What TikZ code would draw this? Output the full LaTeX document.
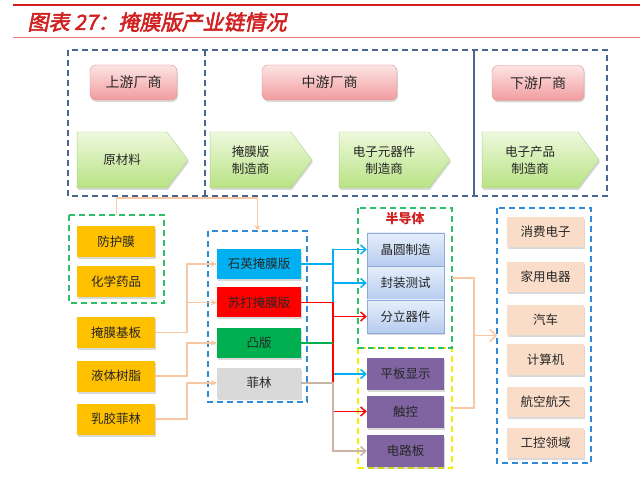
\documentclass[tikz,border=0pt]{standalone}
\usepackage{fontspec}
\newfontfamily\cjk{Noto Sans CJK SC}
\newfontfamily\cjktitle[FakeSlant=0.2,FakeBold=2.5]{Noto Sans CJK SC}
\usetikzlibrary{shapes.symbols,shadows,arrows.meta}

\definecolor{titlered}{HTML}{D02020}
\definecolor{framegray}{HTML}{4A6590}
\definecolor{frameblue}{HTML}{2F8AD8}
\definecolor{framegreen}{HTML}{2DBE6C}
\definecolor{frameyellow}{HTML}{F2F200}
\definecolor{feedline}{HTML}{F8C8A4}
\definecolor{pinktop}{HTML}{FCE4E4}
\definecolor{pinkbot}{HTML}{F29C9E}
\definecolor{pinkline}{HTML}{DE8E8E}
\definecolor{leaftop}{HTML}{EEF9DC}
\definecolor{leafbot}{HTML}{B8E284}
\definecolor{leafline}{HTML}{A9D48A}
\definecolor{amber}{HTML}{FFC000}
\definecolor{quartzblue}{HTML}{00B0F0}
\definecolor{sodared}{HTML}{FF0000}
\definecolor{reliefgreen}{HTML}{00B050}
\definecolor{filmgray}{HTML}{D9D9D9}
\definecolor{filmline}{HTML}{C9B2A6}
\definecolor{chiptop}{HTML}{E6EEFB}
\definecolor{chipbot}{HTML}{B7CCEF}
\definecolor{chipline}{HTML}{8EAADB}
\definecolor{violet}{HTML}{8064A2}
\definecolor{peach}{HTML}{FADDC8}

\begin{document}
\begin{tikzpicture}[x=1pt,y=-1pt,
  font=\cjk\fontsize{12.5}{14}\selectfont, text=black!85,
  frame/.style={dash pattern=on 6pt off 4pt, line width=1.4pt},
  shade/.style={drop shadow={opacity=0.3, shadow xshift=1pt, shadow yshift=-2pt}},
  head/.style={draw=pinkline, top color=pinktop, bottom color=pinkbot, rounded corners=6pt,
    minimum height=35pt, font=\cjk\fontsize{14}{16}\selectfont, shade},
  stage/.style={shape=signal, signal to=east, signal from=nowhere, signal pointer angle=106,
    draw=leafline, top color=leaftop, bottom color=leafbot, minimum height=56pt,
    align=center, inner sep=2pt, shade},
  cell/.style={minimum width=#1, minimum height=31pt, inner sep=1pt, shade},
  feed/.style={draw=feedline, line width=1.5pt, -{Stealth[length=6pt,width=6pt]}},
  link/.style={line width=1.5pt, -{Straight Barb[length=5pt,width=9pt]}}
]
\useasboundingbox (0,0) rectangle (640,478);

% title
\draw[titlered, line width=2.5pt] (13,5) -- (640,5);
\draw[titlered!60, line width=1pt] (13,38) -- (640,38);
\node[anchor=west, text=titlered, font=\cjktitle\fontsize{21}{23}\selectfont] (title) at (24,22) {图表 27：掩膜版产业链情况};

% upper frame
\draw[frame, framegray] (68,50) rectangle (607,196);
\draw[frame, framegray] (205,50) -- (205,196);
\draw[line width=1.4pt, framegray] (474,50) -- (474,196);

\node[head, minimum width=87pt] (upmaker) at (133.5,82.5) {上游厂商};
\node[head, minimum width=135pt] (midmaker) at (329.5,82.5) {中游厂商};
\node[head, minimum width=92pt] (downmaker) at (538,83) {下游厂商};

\node[stage, minimum width=111pt] (raw) at (122,160) {原材料};
\node[stage, minimum width=102pt] (maskmaker) at (250.5,160) {掩膜版\\[3pt]制造商};
\node[stage, minimum width=111pt] (partmaker) at (384,160) {电子元器件\\[3pt]制造商};
\node[stage, minimum width=117pt] (goodsmaker) at (530,160) {电子产品\\[3pt]制造商};

% raw materials
\draw[frame, framegreen] (69,215) rectangle (164,303);
\node[fill=amber, cell=78pt] (film) at (116,241.5) {防护膜};
\node[fill=amber, cell=78pt] (chem) at (116,281.5) {化学药品};
\node[fill=amber, cell=78pt] (base) at (116,332.5) {掩膜基板};
\node[fill=amber, cell=78pt] (resin) at (116,376) {液体树脂};
\node[fill=amber, cell=78pt] (latex) at (116,419) {乳胶菲林};
\coordinate (rawbox) at (116.5,215);

% mask types
\draw[frame, frameblue] (208,231) rectangle (307,402);
\coordinate (maskbox) at (257.5,231);
\node[fill=quartzblue, cell=84pt, minimum height=30pt] (quartz) at (259,264) {石英掩膜版};
\node[fill=sodared, cell=84pt, minimum height=30pt] (soda) at (259,302.5) {苏打掩膜版};
\node[fill=reliefgreen, cell=84pt, minimum height=30pt] (relief) at (259,343) {凸版};
\node[fill=filmgray, cell=84pt, minimum height=30pt] (phototool) at (259,383) {菲林};

% components
\draw[frame, frameyellow] (358,348) rectangle (452,468);
\draw[frame, framegreen] (358,208) rectangle (452,348);
\coordinate (semibox) at (452,278);
\coordinate (panelbox) at (452,408);
\node[text=titlered, font=\cjk\bfseries\fontsize{13}{15}\selectfont] (semi) at (405,219) {半导体};
\node[draw=chipline, top color=chiptop, bottom color=chipbot, cell=77pt, minimum height=33pt] (wafer) at (405.5,249.5) {晶圆制造};
\node[draw=chipline, top color=chiptop, bottom color=chipbot, cell=77pt, minimum height=33pt] (pack) at (405.5,283) {封装测试};
\node[draw=chipline, top color=chiptop, bottom color=chipbot, cell=77pt, minimum height=33pt] (discrete) at (405.5,316.5) {分立器件};
\node[fill=violet, cell=77pt, minimum height=32pt] (flat) at (405.5,374) {平板显示};
\node[fill=violet, cell=77pt, minimum height=32pt] (touch) at (405.5,411.5) {触控};
\node[fill=violet, cell=77pt, minimum height=32pt] (pcb) at (405.5,451) {电路板};

% end markets
\draw[frame, frameblue] (497,208) rectangle (591,463);
\coordinate (marketbox) at (497,335.5);
\node[fill=peach, cell=77pt, minimum height=30pt] (consumer) at (545.5,232) {消费电子};
\node[fill=peach, cell=77pt, minimum height=30pt] (appliance) at (545.5,277) {家用电器};
\node[fill=peach, cell=77pt, minimum height=30pt] (car) at (545.5,320) {汽车};
\node[fill=peach, cell=77pt, minimum height=30pt] (computer) at (545.5,359.5) {计算机};
\node[fill=peach, cell=77pt, minimum height=30pt] (aero) at (545.5,402) {航空航天};
\node[fill=peach, cell=77pt, minimum height=30pt] (control) at (545.5,443) {工控领域};

% feeds
\draw[feed] (rawbox) -- ++(0,-17) -| (maskbox);
\draw[feed] (base.east) -- ++(32,0) coordinate (j1) |- (quartz.west);
\draw[feed] (j1) |- (soda.west);
\draw[feed] (resin.east) -- ++(32,0) |- (relief.west);
\draw[feed] (latex.east) -- ++(32,0) |- (phototool.west);
\draw[feed, -] (semibox) -- ++(22,0) coordinate (r1) -- (r1 |- panelbox) -- (panelbox);
\draw[feed, -{Straight Barb[length=6pt,width=12pt]}] (r1 |- marketbox) -- (marketbox);

% mask links
\draw[link, quartzblue] (quartz.east) -- ++(32,0) coordinate (bus) |- (wafer.west);
\draw[link, quartzblue] (bus) |- (pack.west);
\draw[link, quartzblue] (bus) |- (flat.west);
\draw[link, sodared] (soda.east) -- ++(32,0) coordinate (bus2) |- (discrete.west);
\draw[link, sodared] (bus2) |- (touch.west);
\draw[line width=1.5pt, reliefgreen] (relief.east) -- ++(32,0);
\draw[link, filmline] (phototool.east) -- ++(32,0) |- (pcb.west);
\end{tikzpicture}
\end{document}
